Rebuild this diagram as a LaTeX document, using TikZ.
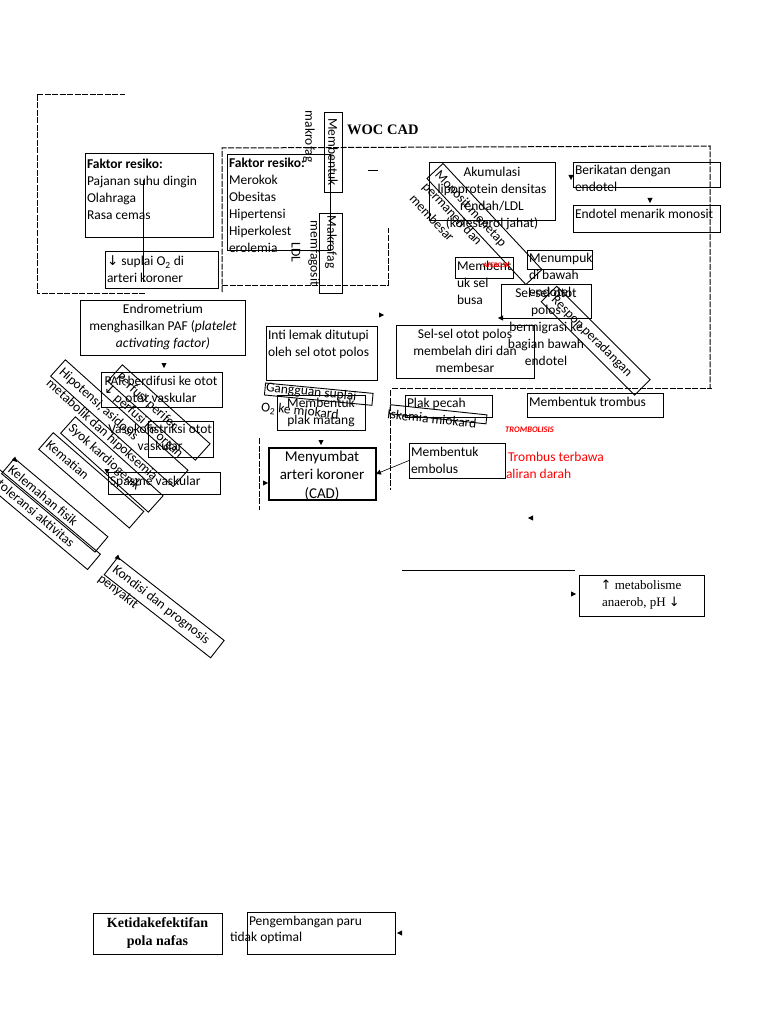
\documentclass[tikz,border=0pt]{standalone}
\usepackage{fontspec}
\setmainfont{Carlito}
\newfontfamily\serifx{Liberation Serif}
\newfontfamily\arrx{DejaVu Sans}
\usetikzlibrary{arrows.meta}
\newcommand\fs{\fontsize{13.5}{17}\selectfont}
\newcommand\dnar{{\arrx\char"2193}}
\newcommand\upar{{\arrx\char"2191}}
\newcommand\bxn[6][]{\node[bx,#1,minimum width={(#4-#2)*1pt},minimum height={(#5-#3)*1pt}] (#6) at ({(#2+#4)/2},{(#3+#5)/2}) {};}
\newcommand\tri[4]{\fill[shift={(#2,#3)},rotate=#4] (0,0) coordinate (#1) -- (-5,2.6) -- (-5,-2.6) -- cycle;}
\tikzset{
  bx/.style={draw, line width=0.9pt, inner sep=0pt, outer sep=0pt},
  tx/.style={inner sep=0pt, outer sep=0pt, align=left, font=\fs},
  txc/.style={inner sep=0pt, outer sep=0pt, align=center, font=\fs},
  dsh/.style={line width=1pt, dash pattern=on 6pt off 1.5pt},
  redtx/.style={inner sep=0pt, outer sep=0pt, align=left, text=red, font=\fs},
}
\begin{document}
\begin{tikzpicture}[x=1pt,y=-1pt]
\useasboundingbox[fill=white] (0,0) rectangle (768,1024);

% dashed frames
\draw[dsh] (37,95) -- (125,95);
\draw[dsh] (37,95) -- (37,293) -- (145,293);
\draw[dsh] (222,292) -- (222,148) -- (710,146) -- (710,388);
\draw[dsh] (222,285) -- (388,285) -- (388,228);
\draw[dsh] (392,388) -- (712,388);
\draw[dsh] (390,390) -- (390,490);
\draw[dsh] (259,438) -- (259,510);
\draw[line width=0.6pt] (368,170) -- (378,170);

% title
\node[inner sep=0pt, anchor=west, font=\serifx\bfseries\fontsize{14.5}{16}\selectfont] (title) at (347,130) {WOC CAD};

% top-left
\bxn{85}{153}{213}{237}{fak1}
\node[tx, anchor=north west] (fak1t) at (87,159) {\textbf{Faktor resiko:}\\Pajanan suhu dingin\\Olahraga\\Rasa cemas};
\bxn{105}{251}{218}{288}{sup}
\node[tx, anchor=north west] (supt) at (107,256) {\dnar{} suplai O\textsubscript{2} di\\arteri koroner};
\draw[line width=0.6pt] (143,180) -- (143,282);

\bxn{227}{154}{330}{250}{fak2}
\node[tx, anchor=north west] (fak2t) at (229,158) {\textbf{Faktor resiko:}\\Merokok\\Obesitas\\Hipertensi\\Hiperkolest\\erolemia};

\bxn{324}{112}{342}{192}{memb}
\node[tx, rotate=-90] (membt) at (memb) {Membentuk};
\bxn{319}{213}{342}{293}{makro}
\node[tx, rotate=-90, anchor=west] (makrot) at (331,216) {Makrofag};
\node[tx, rotate=-90, anchor=west] (mkf) at (309,111) {makrofag};
\node[tx, rotate=-90, anchor=west] (mfg) at (314,221) {memfagosit};
\node[tx, rotate=-90, anchor=west] (ldl) at (296,243) {LDL};

% top-right region
\bxn{429}{162}{555}{220}{aku}
\node[txc, anchor=north] (akut) at (492,167) {Akumulasi\\lipoprotein densitas\\rendah/LDL\\(kolesterol jahat)};
\bxn{573}{162}{720}{187}{ber}
\node[tx, anchor=north west] (bert) at (575,165) {Berikatan dengan\\endotel};
\bxn{573}{205}{720}{232}{endo}
\node[tx, anchor=north west] (endot) at (575,209) {Endotel menarik monosit};

\begin{scope}[shift={(435,171)}, rotate=-47, transform shape]
  \node[bx, anchor=west, minimum width=145pt, minimum height=22pt] (mono) at (0,0) {};
  \node[tx, anchor=west] (mono1) at (3,0) {Monosit menetap};
  \node[tx, anchor=west] (mono2) at (3,17) {permanen dan};
  \node[tx, anchor=west] (mono3) at (3,34) {membesar};
\end{scope}

\bxn{455}{257}{513}{278}{busa}
\node[tx, anchor=north west] (busat) at (457,261) {Membent\\uk sel\\busa};
\node[inner sep=0pt, anchor=west, text=red, font=\bfseries\itshape\fontsize{7}{8}\selectfont] (ater) at (483,265) {ATEROSK};
\bxn{527}{250}{592}{269}{numpuk}
\node[tx, anchor=north west] (numpukt) at (529,253) {Menumpuk\\di bawah\\endotel};
\bxn{501}{284}{591}{318}{migrasi}
\node[txc, anchor=north] (migrasit) at (546,288) {Sel-sel otot\\polos\\bermigrasi ke\\bagian bawah\\endotel};
\bxn{396}{325}{534}{378}{belah}
\node[txc, anchor=north] (belaht) at (465,329) {Sel-sel otot polos\\membelah diri dan\\membesar};

\begin{scope}[shift={(549,294)}, rotate=-45, transform shape]
  \node[bx, anchor=west, minimum width=132pt, minimum height=22pt] (respon) at (0,0) {};
  \node[tx, anchor=west] (respont) at (6,0) {Respon peradangan};
\end{scope}

% middle column
\bxn{80}{300}{245}{355}{endom}
\node[txc, anchor=north] (endomt) at (163,304) {Endrometrium\\menghasilkan PAF (\textit{platelet}\\\textit{activating factor)}};
\bxn{101}{372}{222}{407}{paf}
\node[txc, anchor=north] (paft) at (161,376) {PAF berdifusi ke otot\\otot vaskular};
\bxn{148}{421}{213}{457}{vaso}
\node[txc, anchor=north east] (vasot) at (212,424) {Vasokonstriksi otot\\vaskular};
\bxn{108}{472}{220}{494}{spasme}
\node[tx, anchor=north west] (spasmet) at (110,476) {Spasme vaskular};

\bxn{266}{326}{377}{380}{inti}
\node[tx, anchor=north west] (intit) at (268,330) {Inti lemak ditutupi\\oleh sel otot polos};
\begin{scope}[shift={(265,389)}, rotate=-5.5, transform shape]
  \node[bx, anchor=west, minimum width=108pt, minimum height=12pt] (gang) at (0,0) {};
  \node[tx, anchor=west] (gang1) at (1,-1) {Gangguan suplai};
  \node[tx, anchor=west] (gang2) at (-2,19) {O\textsubscript{2} ke miokard};
\end{scope}
\bxn{277}{395}{365}{430}{plak}
\node[txc, anchor=north] (plakt) at (321,398) {Membentuk\\plak matang};
\bxn[line width=1.5pt]{269}{448}{376}{500}{cad}
\node[txc, anchor=north, font=\fontsize{15}{18.5}\selectfont] (cadt) at (322,451) {Menyumbat\\arteri koroner\\(CAD)};

% lower right
\bxn{405}{395}{492}{417}{pecah}
\node[tx, anchor=north west] (pecaht) at (407,398) {Plak pecah};
\begin{scope}[shift={(388,409)}, rotate=-6, transform shape]
  \node[bx, anchor=west, minimum width=97pt, minimum height=9pt] (isk) at (2,0) {};
  \node[tx, anchor=west] (iskt) at (0,5) {Iskemia miokard};
\end{scope}
\bxn{527}{393}{663}{417}{trombus}
\node[tx, anchor=north west] (trombust) at (529,397) {Membentuk trombus};
\node[inner sep=0pt, anchor=west, text=red, font=\bfseries\itshape\fontsize{8.5}{10}\selectfont] (tromb) at (505,430) {TROMBOLISIS};
\bxn{409}{443}{505}{478}{emb}
\node[tx, anchor=north west] (embt) at (411,447) {Membentuk\\embolus};
\node[redtx, anchor=north west] (terbawa) at (506,452) {\hspace*{2pt}Trombus terbawa\\aliran darah};
\draw[line width=0.6pt, -{Triangle[width=5pt,length=5pt]}] (emb.west) -- (cad.east);

\draw[line width=0.8pt] (402,570) -- (575,570);
\bxn{579}{575}{704}{616}{metab}
\node[txc, anchor=north, font=\serifx\fontsize{13}{17}\selectfont] (metabt) at (641,580) {\upar{} metabolisme\\anaerob, pH \dnar};

% bottom
\bxn{93}{913}{222}{954}{ketidak}
\node[txc, anchor=north, font=\serifx\bfseries\fontsize{14}{18}\selectfont] (ketidakt) at (157.5,918) {Ketidakefektifan\\pola nafas};
\bxn{247}{912}{395}{954}{paru}
\node[tx, anchor=north west] (paru1) at (249,916) {Pengembangan paru};
\node[tx, anchor=north west] (paru2) at (230,932) {tidak optimal};

% left rotated boxes
\begin{scope}[shift={(115,373)}, rotate=-42, transform shape]
  \node[bx, anchor=west, minimum width=118pt, minimum height=22pt] (perf) at (0,0) {};
  \node[tx, anchor=west] (perf1) at (4,0) {Perfusi perifer};
  \node[tx, anchor=west] (perf2) at (2,17) {\dnar{} perfusi ke organ};
\end{scope}
\begin{scope}[shift={(58,368)}, rotate=-42, transform shape]
  \node[bx, anchor=west, minimum width=165pt, minimum height=22pt] (hipo) at (0,0) {};
  \node[tx, anchor=west] (hipo1) at (4,0) {Hipotensi, asidosis};
  \node[tx, anchor=west] (hipo2) at (2,17) {metabolik dan hipoksemia};
\end{scope}
\begin{scope}[shift={(68,425)}, rotate=-42, transform shape]
  \node[bx, anchor=west, minimum width=118pt, minimum height=22pt] (syok) at (0,0) {};
  \node[tx, anchor=west] (syokt) at (3,0) {Syok kardiogenik};
\end{scope}
\begin{scope}[shift={(46,441)}, rotate=-41, transform shape]
  \node[bx, anchor=west, minimum width=120pt, minimum height=22pt] (mati) at (0,0) {};
  \node[tx, anchor=west] (matit) at (3,0) {Kematian};
\end{scope}
\begin{scope}[shift={(8,466)}, rotate=-40, transform shape]
  \node[bx, anchor=west, minimum width=122pt, minimum height=20pt] (lemah) at (0,0) {};
  \node[tx, anchor=west] (lemaht) at (3,0) {Kelemahan fisik};
\end{scope}
\begin{scope}[shift={(-28.6,459)}, rotate=-40, transform shape]
  \node[bx, anchor=west, minimum width=160pt, minimum height=20pt] (intol) at (0,0) {};
  \node[tx, anchor=west] (intolt) at (26,0) {Intoleransi aktivitas};
\end{scope}
\begin{scope}[shift={(111,566)}, rotate=-38, transform shape]
  \node[bx, anchor=west, minimum width=135pt, minimum height=22pt] (kond) at (0,0) {};
  \node[tx, anchor=west] (kond1) at (4,0) {Kondisi dan prognosis};
  \node[tx, anchor=west] (kond2) at (-2,16) {penyakit};
\end{scope}

% arrowheads
\tri{a1}{164}{368}{-90}
\tri{a2}{571}{180}{-90}
\tri{a3}{650}{203}{-90}
\tri{a4}{384}{315}{0}
\tri{a5}{321}{445}{-90}
\tri{a6}{268}{483}{0}
\tri{a7}{528}{518}{180}
\tri{a8}{576}{594}{0}
\tri{a9}{397}{933}{180}
\tri{a10}{498}{318}{180}
\tri{a11}{17}{462}{-45}
\tri{a12}{120}{560}{-45}
\tri{a13}{107}{474}{-90}
\end{tikzpicture}
\end{document}
